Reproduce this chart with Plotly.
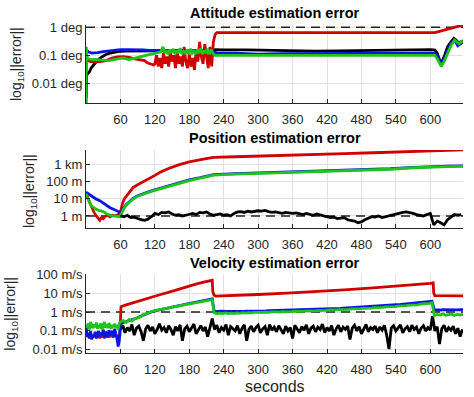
import math
import plotly.graph_objects as go

# ---------------- data ----------------
X_TICKS = [60, 120, 180, 240, 300, 360, 420, 480, 540, 600]

# Attitude estimation error (deg)
ATT_BLACK_T = [0, 1, 3, 6, 9, 13, 18, 24, 30, 36,
               42, 48, 55, 65, 80, 100, 120, 140, 160, 180,
               200, 220, 225, 240, 280, 320, 360, 400, 440, 480,
               520, 560, 600, 608, 612, 616, 620, 625, 630, 636,
               641, 645, 649, 653, 657]
ATT_BLACK_V = [0.003, 0.02, 0.022, 0.026, 0.035, 0.045, 0.06, 0.078, 0.095, 0.11,
               0.12, 0.13, 0.135, 0.14, 0.14, 0.145, 0.145, 0.15, 0.145, 0.15,
               0.15, 0.15, 0.16, 0.155, 0.155, 0.15, 0.145, 0.14, 0.145, 0.15,
               0.15, 0.155, 0.16, 0.155, 0.12, 0.07, 0.055, 0.1, 0.2, 0.3,
               0.4, 0.35, 0.28, 0.3, 0.33]

ATT_RED_T = [0, 3, 8, 15, 25, 35, 45, 55, 65, 75,
             85, 95, 102, 106, 110, 114, 118,
             120, 123, 126, 129, 132, 135, 138, 141, 144, 147,
             150, 153, 156, 159, 162, 165, 168, 171, 174, 177,
             180, 183, 186, 189, 192, 195, 198, 201, 204, 207,
             210, 213, 216, 219,
             222, 225, 228, 300, 400, 500, 600, 608, 657]
ATT_RED_V = [0.075, 0.065, 0.06, 0.058, 0.06, 0.065, 0.08, 0.088, 0.09, 0.085,
             0.075, 0.07, 0.065, 0.055, 0.05, 0.048, 0.045,
             0.05, 0.1, 0.04, 0.08, 0.035, 0.12, 0.05, 0.09, 0.04, 0.13,
             0.06, 0.1, 0.035, 0.14, 0.05, 0.09, 0.04, 0.2, 0.06, 0.035,
             0.11, 0.04, 0.08, 0.03, 0.15, 0.06, 0.3, 0.09, 0.05, 0.25,
             0.1, 0.035, 0.2, 0.04,
             0.3, 0.55, 0.64, 0.64, 0.64, 0.64, 0.64, 0.64, 1.2]

ATT_BLUE_T = [0, 0.5, 2, 5, 10, 15, 20, 30, 40, 50,
              60, 70, 80, 90, 100, 110, 120, 140, 160, 180,
              200, 220, 224, 228, 260, 300, 340, 380, 420, 460,
              500, 540, 580, 600, 608, 613, 618, 622, 628, 634,
              640, 644, 648, 652, 657]
ATT_BLUE_V = [0.002, 0.15, 0.145, 0.13, 0.12, 0.12, 0.125, 0.135, 0.145, 0.155,
              0.16, 0.16, 0.16, 0.155, 0.155, 0.15, 0.15, 0.15, 0.15, 0.15,
              0.15, 0.15, 0.13, 0.12, 0.12, 0.11, 0.115, 0.115, 0.115, 0.115,
              0.115, 0.115, 0.118, 0.12, 0.12, 0.09, 0.05, 0.06, 0.12, 0.22,
              0.32, 0.3, 0.22, 0.26, 0.3]

ATT_GREEN_T = [0, 0.5, 1.5, 3, 6, 10, 15, 20, 25, 30,
               35, 40, 45, 50, 55, 60, 65, 70, 75, 80,
               85, 90, 95, 100, 105, 110, 115, 120, 125, 130,
               134, 137, 140, 143, 146, 149, 152, 155, 158, 161,
               164, 167, 170, 173, 176, 179, 182, 185, 188, 191,
               194, 197, 200, 203, 206, 209, 212, 215, 218, 221,
               224, 228, 260, 300, 340, 380, 420, 460, 500, 540,
               580, 600, 608, 613, 619, 624, 630, 636, 642, 646,
               650, 654, 657]
ATT_GREEN_V = [0.002, 0.2, 0.1, 0.075, 0.072, 0.07, 0.072, 0.07, 0.068, 0.07,
               0.068, 0.065, 0.068, 0.072, 0.075, 0.078, 0.08, 0.075, 0.07, 0.075,
               0.08, 0.085, 0.09, 0.095, 0.1, 0.105, 0.11, 0.12, 0.125, 0.13,
               0.2, 0.12, 0.15, 0.11, 0.16, 0.12, 0.17, 0.11, 0.15, 0.12,
               0.18, 0.11, 0.14, 0.12, 0.16, 0.11, 0.17, 0.12, 0.14, 0.11,
               0.16, 0.12, 0.18, 0.11, 0.15, 0.12, 0.17, 0.11, 0.16, 0.12,
               0.1, 0.1, 0.1, 0.095, 0.095, 0.095, 0.095, 0.095, 0.095, 0.1,
               0.1, 0.1, 0.1, 0.07, 0.04, 0.06, 0.12, 0.22, 0.35, 0.3,
               0.26, 0.3, 0.33]

# Position estimation error (m)
POS_BLACK_T = list(range(60, 655, 6))
POS_BLACK_V = [1.0, 0.9, 1.1, 0.8, 0.85, 0.7, 0.6, 0.55, 0.65, 0.9,
               1.4, 1.2, 1.6, 1.5, 1.7, 1.3, 1.1, 1.2, 1.0, 1.1,
               1.3, 1.4, 1.2, 1.6, 1.5, 1.7, 1.3, 1.1, 1.2, 1.3,
               1.1, 1.2, 1.0, 1.4, 1.7, 1.8, 1.6, 1.9, 1.7, 1.8,
               2.0, 1.9, 2.1, 1.8, 1.6, 1.7, 1.5, 1.4, 1.6, 1.5,
               1.4, 1.5, 1.3, 1.2, 1.4, 1.2, 1.1, 1.3, 1.2, 1.0,
               0.9, 0.8, 0.85, 0.7, 0.75, 0.8, 0.6, 0.55, 0.5, 0.4,
               0.45, 0.6, 0.7, 0.9, 0.85, 1.0, 0.8, 0.9, 0.95, 1.1,
               1.3, 1.5, 1.6, 1.7, 1.6, 1.4, 1.2, 1.1, 1.0, 1.2,
               1.4, 0.3, 0.5, 0.4, 0.3, 0.6, 0.9, 1.2, 1.1, 1.2]

POS_RED_T = [0, 3, 6, 10, 14, 18, 21, 24, 27, 30,
             34, 38, 42, 46, 50, 54, 58, 60, 61, 62,
             64, 67, 71, 76, 82, 90, 99, 110, 120, 130,
             145, 164, 180, 200, 222, 260, 300, 350, 400, 450,
             500, 550, 600, 630, 657]
POS_RED_V = [20, 12, 6, 3, 1.6, 1.0, 0.7, 0.55, 0.8, 0.7,
             1.0, 1.1, 0.9, 1.1, 1.0, 1.1, 1.3, 1.6, 2.2, 3,
             6, 10, 15, 28, 45, 65, 93, 150, 230, 360,
             600, 1000, 1400, 1900, 2600, 2800, 3000, 3300, 3700, 4200,
             4800, 5500, 6500, 6800, 7000]

POS_BLUE_T = [0, 6, 13, 18, 24, 30, 36, 42, 47, 53,
              59, 60, 62, 66, 70, 76, 82, 90, 99, 106,
              115, 129, 145, 164, 180, 199, 222, 260, 300, 350,
              400, 430, 480, 530, 570, 600, 630, 657]
POS_BLUE_V = [24, 17, 12, 9.5, 7.7, 5.5, 3.9, 3.0, 2.5, 2.0,
              1.7, 1.6, 1.8, 3.0, 4.5, 7, 10.5, 15, 20, 24,
              30, 41, 60, 93, 125, 170, 257, 290, 320, 360,
              400, 420, 480, 560, 680, 760, 800, 820]

POS_GREEN_T = [0, 3, 6, 9, 13, 17, 21, 25, 30, 35,
               40, 45, 50, 55, 59, 60, 62, 66, 70, 76,
               82, 90, 99, 106, 115, 129, 145, 164, 180, 199,
               222, 260, 300, 350, 400, 430, 480, 530, 570, 600,
               630, 657]
POS_GREEN_V = [20, 10, 6, 4, 3, 2.5, 2.2, 2.0, 1.8, 1.4,
               1.2, 1.0, 1.0, 0.95, 0.9, 1.0, 1.5, 2.7, 4.2, 6.5,
               9.8, 14, 18.5, 22, 28, 38, 55, 86, 115, 158,
               240, 270, 300, 335, 375, 395, 450, 525, 640, 710,
               750, 770]

# Velocity estimation error (m/s)
VEL_BLACK_T = list(range(60, 657, 4))
VEL_BLACK_V = [0.12, 0.2, 0.08, 0.15, 0.1, 0.22, 0.06, 0.14, 0.18, 0.09,
               0.03, 0.13, 0.2, 0.1, 0.16, 0.07, 0.12, 0.24, 0.11, 0.15,
               0.08, 0.19, 0.12, 0.06, 0.17, 0.1, 0.21, 0.03, 0.13, 0.18,
               0.09, 0.15, 0.23, 0.07, 0.12, 0.19, 0.1, 0.16, 0.05, 0.14,
               0.45, 0.12, 0.2, 0.08, 0.15, 0.11, 0.22, 0.06, 0.17, 0.13,
               0.1, 0.19, 0.07, 0.14, 0.21, 0.03, 0.12, 0.18, 0.09, 0.15,
               0.2, 0.08, 0.13, 0.17, 0.06, 0.22, 0.11, 0.16, 0.09, 0.19,
               0.12, 0.07, 0.18, 0.1, 0.15, 0.04, 0.2, 0.13, 0.08, 0.17,
               0.11, 0.21, 0.07, 0.14, 0.18, 0.09, 0.16, 0.12, 0.23, 0.08,
               0.15, 0.1, 0.19, 0.06, 0.13, 0.2, 0.09, 0.16, 0.12, 0.18,
               0.035, 0.14, 0.2, 0.1, 0.17, 0.07, 0.13, 0.22, 0.09, 0.15,
               0.12, 0.18, 0.08, 0.16, 0.11, 0.2, 0.06, 0.011, 0.14, 0.19,
               0.1, 0.15, 0.21, 0.08, 0.13, 0.17, 0.09, 0.2, 0.12, 0.16,
               0.07, 0.14, 0.19, 0.1, 0.15, 0.11, 0.6, 0.1, 0.17, 0.02,
               0.13, 0.2, 0.09, 0.15, 0.11, 0.18, 0.07, 0.14, 0.05, 0.12]

VEL_RED_T = [0, 4, 8, 12, 16, 20, 24, 28, 32, 36,
             40, 44, 48, 52, 56, 59, 60, 61, 70, 80,
             90, 100, 113, 130, 145, 160, 175, 190, 205, 217,
             220, 221, 223, 226, 250, 300, 350, 400, 425, 450,
             500, 550, 580, 600, 605, 606, 608, 630, 657]
VEL_RED_V = [0.06, 0.05, 0.045, 0.05, 0.055, 0.05, 0.045, 0.05, 0.06, 0.05,
             0.05, 0.055, 0.05, 0.06, 0.05, 0.06, 1.8, 1.9, 2.4, 3.0,
             3.8, 4.6, 6.0, 8.5, 11.5, 16, 22, 29, 38, 46,
             48, 12, 8, 7.0, 7.3, 8.5, 10, 12, 13.5, 15,
             19, 24, 29, 33, 35, 10, 7.5, 7.3, 7.2]

VEL_T_A = list(range(0, 59, 2))      # 0..58
VEL_T_B = list(range(60, 221, 5))    # 60..220
VEL_T_C = list(range(223, 604, 5))   # 223..603
VEL_T_D = list(range(607, 658, 5))   # 607..657

VEL_BLUE_A = [0.2, 0.05, 0.08, 0.04, 0.1, 0.035, 0.06, 0.05, 0.09, 0.04,
              0.07, 0.1, 0.05, 0.08, 0.06, 0.12, 0.04, 0.09, 0.07, 0.05,
              0.11, 0.06, 0.08, 0.1, 0.05, 0.13, 0.07, 0.04, 0.015, 0.03]
VEL_BLUE_B = [0.25, 0.28, 0.3, 0.33, 0.37, 0.42, 0.5, 0.6, 0.7, 0.8,
              0.92, 1.05, 1.15, 1.25, 1.35, 1.45, 1.55, 1.7, 1.85, 2.0,
              2.15, 2.3, 2.5, 2.7, 2.9, 3.1, 3.3, 3.5, 3.75, 4.0,
              4.3, 4.6, 5.0]
VEL_BLUE_C = [1.2, 1.05, 1.1, 1.06, 1.08, 1.07, 1.09, 1.08, 1.1, 1.09,
              1.11, 1.1, 1.13, 1.12, 1.14, 1.15, 1.14, 1.17, 1.16, 1.18,
              1.19, 1.2, 1.19, 1.22, 1.22, 1.23, 1.25, 1.25, 1.27, 1.28,
              1.29, 1.3, 1.31, 1.33, 1.34, 1.35, 1.38, 1.4, 1.43, 1.45,
              1.48, 1.5, 1.53, 1.55, 1.57, 1.6, 1.63, 1.67, 1.7, 1.74,
              1.77, 1.8, 1.84, 1.88, 1.92, 1.96, 2.0, 2.05, 2.1, 2.15,
              2.2, 2.25, 2.3, 2.38, 2.45, 2.52, 2.6, 2.7, 2.8, 2.9,
              3.0, 3.1, 3.2, 3.3, 3.42, 3.55, 3.7]
VEL_BLUE_D = [1.3, 1.35, 1.28, 1.32, 1.3, 1.36, 1.29, 1.33, 1.3, 1.35, 1.32]

VEL_GREEN_A = [0.22, 0.15, 0.25, 0.12, 0.3, 0.18, 0.14, 0.22, 0.16, 0.28,
               0.13, 0.2, 0.17, 0.25, 0.12, 0.19, 0.3, 0.15, 0.22, 0.14,
               0.26, 0.18, 0.13, 0.21, 0.16, 0.24, 0.15, 0.2, 0.12, 0.25]
VEL_GREEN_B = [0.3, 0.35, 0.28, 0.4, 0.33, 0.45, 0.5, 0.55, 0.75, 0.8,
               0.95, 1.1, 1.2, 1.3, 1.35, 1.5, 1.55, 1.65, 1.8, 1.9,
               2.05, 2.2, 2.35, 2.5, 2.7, 2.85, 3.05, 3.25, 3.45, 3.7,
               3.95, 4.25, 4.6]
VEL_GREEN_C = [0.95, 0.8, 0.88, 0.82, 0.9, 0.84, 0.87, 0.83, 0.9, 0.86,
               0.92, 0.87, 0.94, 0.9, 0.96, 0.93, 0.97, 0.95, 1.0, 0.96,
               1.02, 0.98, 1.03, 1.0, 1.06, 1.02, 1.08, 1.05, 1.1, 1.07,
               1.12, 1.09, 1.14, 1.12, 1.17, 1.14, 1.2, 1.18, 1.24, 1.22,
               1.28, 1.25, 1.31, 1.29, 1.35, 1.33, 1.4, 1.38, 1.46, 1.44,
               1.52, 1.5, 1.58, 1.56, 1.65, 1.63, 1.72, 1.7, 1.8, 1.78,
               1.88, 1.86, 1.97, 1.95, 2.06, 2.05, 2.18, 2.16, 2.3, 2.28,
               2.45, 2.42, 2.6, 2.58, 2.8, 2.85, 3.1]
VEL_GREEN_D = [0.65, 0.75, 0.7, 0.8, 0.68, 0.72, 0.78, 0.66, 0.74, 0.7, 0.76]

REF_X = [0, 657]
REF_Y = [1, 1]

ATT_TICKS = [0.01, 0.1, 1]
ATT_LABELS = ["0.01 deg", "0.1 deg", "1 deg"]
POS_TICKS = [1, 10, 100, 1000]
POS_LABELS = ["1 m", "10 m", "100 m", "1 km"]
VEL_TICKS = [0.01, 0.1, 1, 10, 100]
VEL_LABELS = ["0.01 m/s", "0.1 m/s", "1 m/s", "10 m/s", "100 m/s"]

TITLES = ["Attitude estimation error", "Position estimation error", "Velocity estimation error"]

# ---------------- figure ----------------
BLACK = "#000000"
RED = "#d00000"
BLUE = "#0a14e6"
GREEN = "#1ec31e"
LW = 2.8

fig = go.Figure()


def add(ax, x, y, color, width=LW, dash=None):
    xa = "x" if ax == 1 else "x%d" % ax
    ya = "y" if ax == 1 else "y%d" % ax
    fig.add_trace(go.Scatter(x=x, y=y, mode="lines",
                             line=dict(color=color, width=width, dash=dash),
                             xaxis=xa, yaxis=ya, showlegend=False,
                             hoverinfo="skip"))


# attitude
add(1, REF_X, REF_Y, "#222222", 1.5, "9px,6px")
add(1, ATT_BLACK_T, ATT_BLACK_V, BLACK)
add(1, ATT_RED_T, ATT_RED_V, RED)
add(1, ATT_BLUE_T, ATT_BLUE_V, BLUE)
add(1, ATT_GREEN_T, ATT_GREEN_V, GREEN)

# position
add(2, REF_X, REF_Y, "#222222", 1.5, "9px,6px")
add(2, POS_RED_T, POS_RED_V, RED)
add(2, POS_BLUE_T, POS_BLUE_V, BLUE)
add(2, POS_GREEN_T, POS_GREEN_V, GREEN)
add(2, POS_BLACK_T, POS_BLACK_V, BLACK)

# velocity
add(3, REF_X, REF_Y, "#222222", 1.5, "9px,6px")
add(3, VEL_BLACK_T, VEL_BLACK_V, BLACK)
add(3, VEL_RED_T, VEL_RED_V, RED)
add(3, VEL_T_A + VEL_T_B + VEL_T_C + VEL_T_D,
    VEL_BLUE_A + VEL_BLUE_B + VEL_BLUE_C + VEL_BLUE_D, BLUE)
add(3, VEL_T_A + VEL_T_B + VEL_T_C + VEL_T_D,
    VEL_GREEN_A + VEL_GREEN_B + VEL_GREEN_C + VEL_GREEN_D, GREEN)

FONT = "Liberation Sans, Arial, Helvetica, sans-serif"
AXC = "#262626"
GRID = "#e2e2e2"

xcommon = dict(range=[0, 657], tickvals=X_TICKS, ticks="inside", ticklen=4,
               tickcolor=AXC, showline=True, linecolor=AXC, linewidth=1,
               showgrid=True, gridcolor=GRID, gridwidth=1, zeroline=False,
               tickfont=dict(family=FONT, size=13, color=AXC),
               ticklabelstandoff=4)


def ycommon(rng, tv, tt, dom):
    return dict(type="log", range=rng, tickvals=tv, ticktext=tt, domain=dom,
                ticks="inside", ticklen=4, tickcolor=AXC, showline=True,
                linecolor=AXC, linewidth=1, showgrid=True, gridcolor=GRID,
                gridwidth=1, zeroline=False,
                tickfont=dict(family=FONT, size=13, color=AXC))


L, R, T, B = 86, 11, 25, 44
H = 397 - T - B


def fy(py):
    return (397 - B - py) / H


fig.update_layout(
    width=474, height=397,
    margin=dict(l=L, r=R, t=T, b=B),
    paper_bgcolor="white", plot_bgcolor="white",
    xaxis=dict(xcommon, anchor="y", domain=[0, 1]),
    xaxis2=dict(xcommon, anchor="y2", domain=[0, 1]),
    xaxis3=dict(xcommon, anchor="y3", domain=[0, 1]),
    yaxis=ycommon([math.log10(0.00195), 0.08], ATT_TICKS, ATT_LABELS, [fy(103.3), 1.0]),
    yaxis2=ycommon([-0.72, 3.84], POS_TICKS, POS_LABELS, [fy(228.3), fy(150)]),
    yaxis3=ycommon([-2.17, 2.0], VEL_TICKS, VEL_LABELS, [0.0, fy(274.3)]),
)

ann = []
for title, py in zip(TITLES, [13.3, 138.3, 263.3]):
    ann.append(dict(text="<b>%s</b>" % title, x=0.5, y=fy(py), xref="paper", yref="paper",
                    xanchor="center", yanchor="middle", showarrow=False,
                    font=dict(family=FONT, size=14.5, color="black")))
for px, py in zip([17, 30, 11], [64, 191, 313.7]):
    ann.append(dict(text="log<sub>10</sub>||error||", x=(px - L) / (474 - L - R), y=fy(py),
                    xref="paper", yref="paper", xanchor="center", yanchor="middle",
                    textangle=-90, showarrow=False,
                    font=dict(family=FONT, size=14, color=AXC)))
ann.append(dict(text="seconds", x=0.5, y=fy(386.7), xref="paper", yref="paper",
                xanchor="center", yanchor="middle", showarrow=False,
                font=dict(family=FONT, size=16, color=AXC)))
fig.update_layout(annotations=ann)

fig.write_html("out.html",
               config={"displayModeBar": False},
               post_script="document.body.style.margin='0px';document.body.style.overflow='hidden';")
